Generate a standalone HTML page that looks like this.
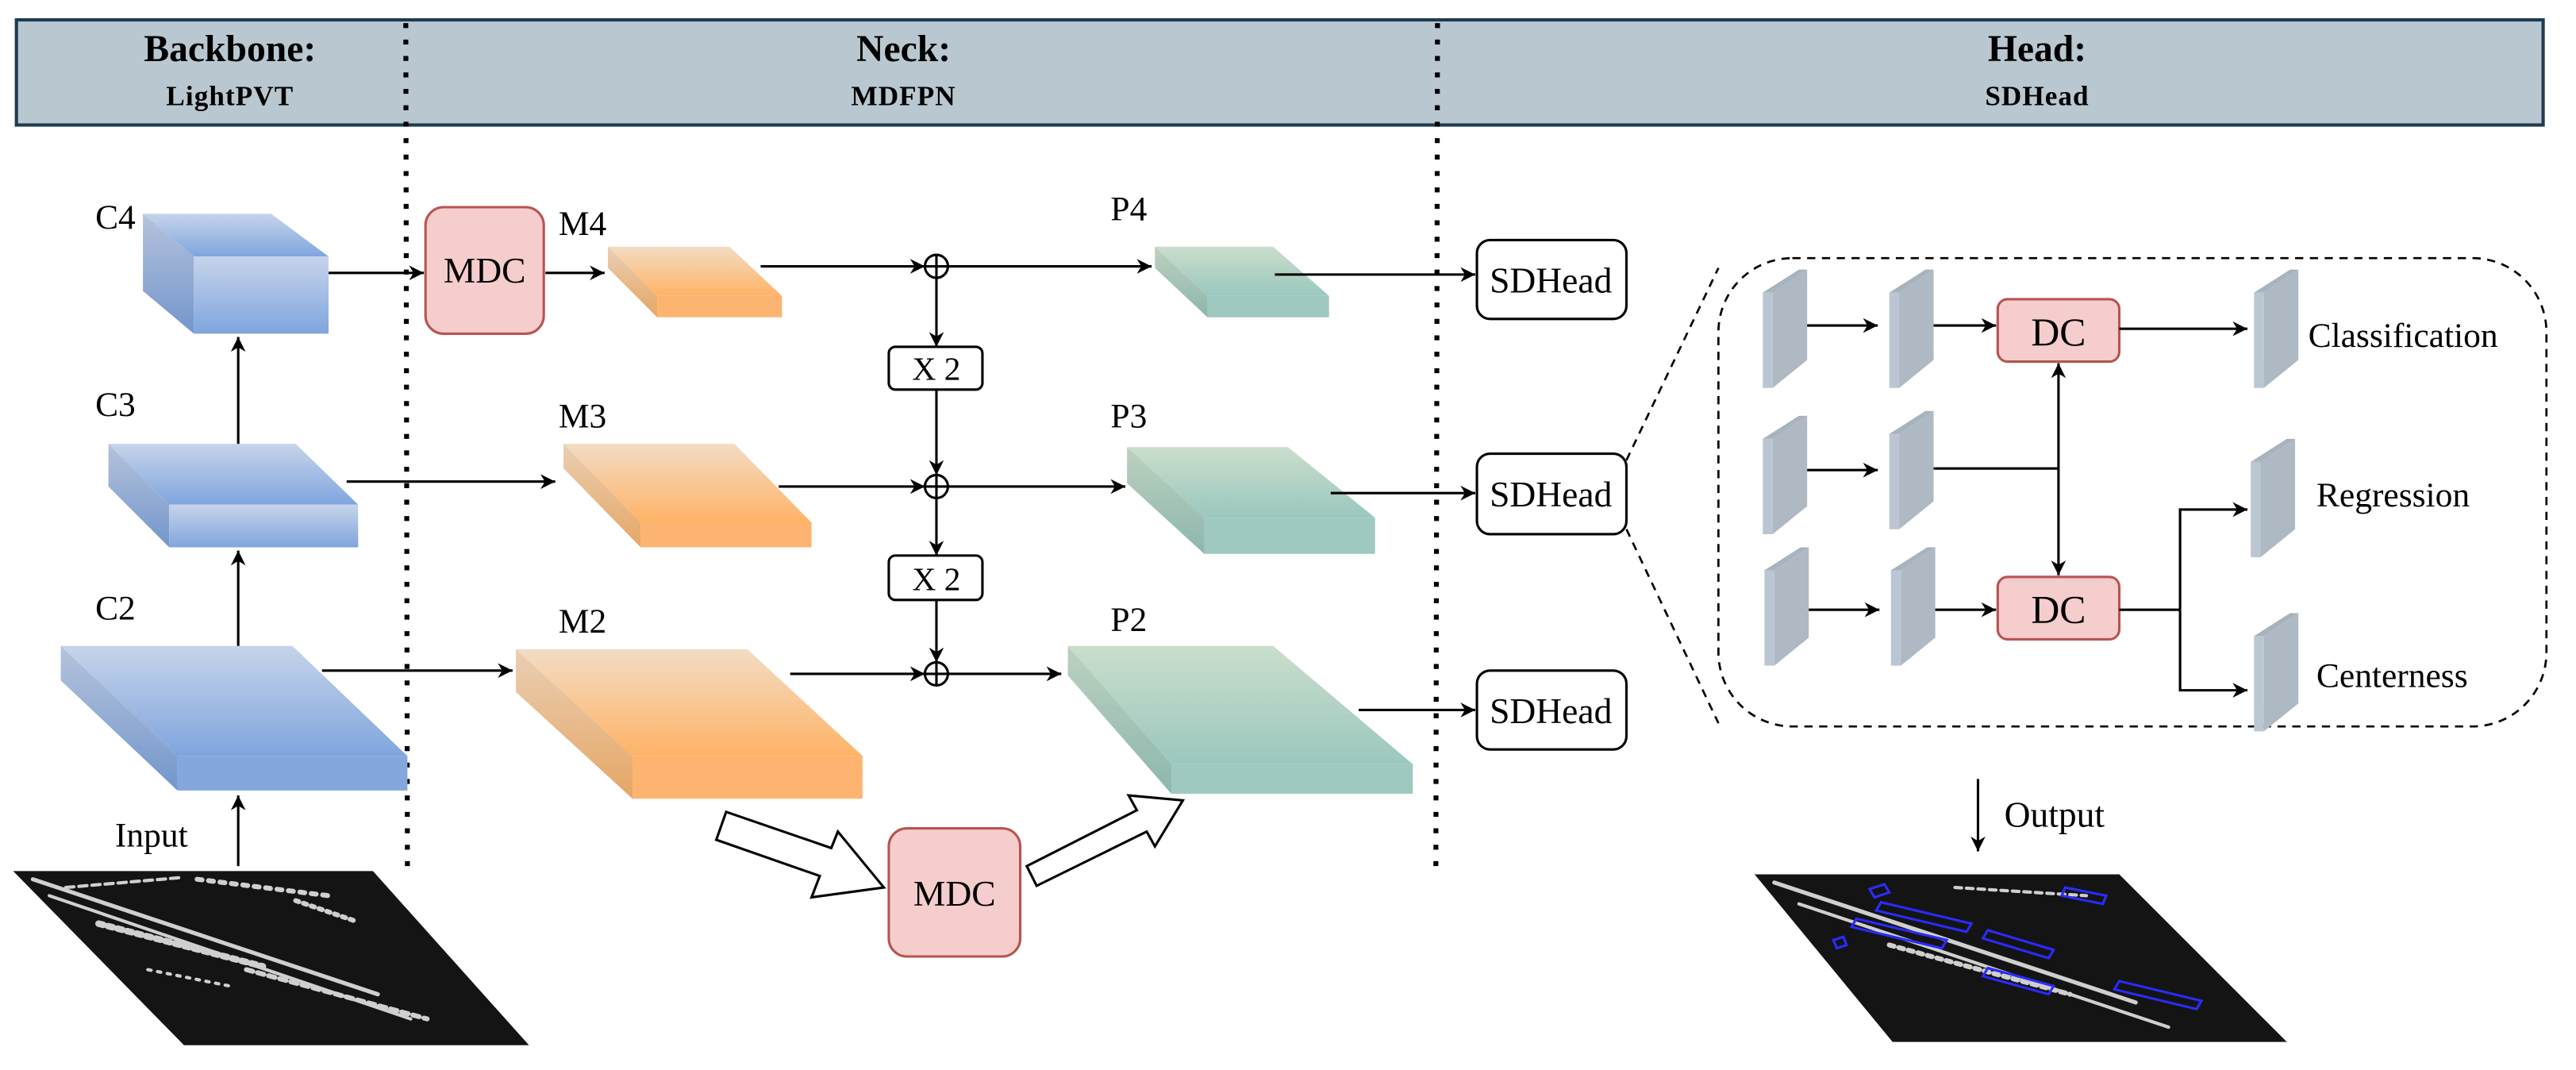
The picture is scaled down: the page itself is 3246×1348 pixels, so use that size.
<!DOCTYPE html>
<html><head><meta charset="utf-8"><style>
html,body{margin:0;padding:0;background:#fff;}
svg{display:block;}
text{font-family:"Liberation Serif",serif;}
</style></head><body>
<svg width="3246" height="1348" viewBox="0 0 1568 651" xmlns="http://www.w3.org/2000/svg" font-family="Liberation Serif, serif">
<defs>
<linearGradient id="bl" x1="0" y1="0" x2="0" y2="1"><stop offset="0" stop-color="#c7d4ea"/><stop offset="1" stop-color="#7fa5de"/></linearGradient>
<linearGradient id="bls" x1="0" y1="0" x2="0" y2="1"><stop offset="0" stop-color="#b5c3dc"/><stop offset="1" stop-color="#7396cb"/></linearGradient>
<linearGradient id="or" x1="0" y1="0" x2="0" y2="1"><stop offset="0" stop-color="#f2dcc4"/><stop offset="1" stop-color="#ffb366"/></linearGradient>
<linearGradient id="ors" x1="0" y1="0" x2="0" y2="1"><stop offset="0" stop-color="#e9cfb3"/><stop offset="1" stop-color="#e6a665"/></linearGradient>
<linearGradient id="gr" x1="0" y1="0" x2="0" y2="1"><stop offset="0" stop-color="#cadecb"/><stop offset="1" stop-color="#9bc7bf"/></linearGradient>
<linearGradient id="grs" x1="0" y1="0" x2="0" y2="1"><stop offset="0" stop-color="#bcd1bf"/><stop offset="1" stop-color="#8db7ae"/></linearGradient>
<marker id="a" viewBox="0 0 10 10" refX="10" refY="5" markerWidth="9" markerHeight="9" markerUnits="userSpaceOnUse" orient="auto"><path d="M0,0 L10,5 L0,10 L3,5 Z" fill="#000"/></marker>
</defs>

<rect x="10" y="12" width="1538" height="64" fill="#b9c7d1" stroke="#1f3b50" stroke-width="2"/>
<g font-weight="bold" text-anchor="middle">
<text x="140" y="37" font-size="23">Backbone:</text>
<text x="140" y="64" font-size="17" letter-spacing="0.5">LightPVT</text>
<text x="550" y="37" font-size="23">Neck:</text>
<text x="550" y="64" font-size="17" letter-spacing="0.5">MDFPN</text>
<text x="1240" y="37" font-size="23">Head:</text>
<text x="1240" y="64" font-size="17" letter-spacing="0.5">SDHead</text>
</g>
<line x1="247" y1="14" x2="248" y2="527" stroke="#000" stroke-width="3" stroke-dasharray="3,7"/>
<line x1="875" y1="14" x2="874" y2="527" stroke="#000" stroke-width="3" stroke-dasharray="3,7"/>

<g font-size="21">
<text x="58" y="139">C4</text><text x="58" y="253">C3</text><text x="58" y="377">C2</text>
<text x="70" y="515">Input</text>
<text x="340" y="143">M4</text><text x="340" y="260">M3</text><text x="340" y="385">M2</text>
<text x="676" y="134">P4</text><text x="676" y="260">P3</text><text x="676" y="384">P2</text>
</g>

<polygon points="87,130 165,130 200,156 118,156" fill="url(#bl)"/>
<polygon points="87,130 118,156 118,203 87,177" fill="url(#bls)"/>
<rect x="118" y="156" width="82" height="47" fill="url(#bl)"/>
<polygon points="66,270 180,270 218,307 103,307" fill="url(#bl)"/>
<polygon points="66,270 103,307 103,333 66,296" fill="url(#bls)"/>
<rect x="103" y="307" width="115" height="26" fill="url(#bl)"/>
<polygon points="37,393 178,393 248,460 108,460" fill="url(#bl)"/>
<polygon points="37,393 108,460 108,481 37,414" fill="url(#bls)"/>
<rect x="108" y="460" width="140" height="21" fill="#84a8de"/>

<polygon points="370,150 444,150 476,180 400,180" fill="url(#or)"/>
<polygon points="370,150 400,180 400,193 370,163" fill="url(#ors)"/>
<rect x="400" y="180" width="76" height="13" fill="#fdb470"/>
<polygon points="343,270 447,270 494,318 390,318" fill="url(#or)"/>
<polygon points="343,270 390,318 390,333 343,285" fill="url(#ors)"/>
<rect x="390" y="318" width="104" height="15" fill="#fdb470"/>
<polygon points="314,395 455,395 525,460 385,460" fill="url(#or)"/>
<polygon points="314,395 385,460 385,486 314,421" fill="url(#ors)"/>
<rect x="385" y="460" width="140" height="26" fill="#fdb470"/>

<polygon points="703,150 775,150 809,180 735,180" fill="url(#gr)"/>
<polygon points="703,150 735,180 735,193 703,163" fill="url(#grs)"/>
<rect x="735" y="180" width="74" height="13" fill="#9fc9c0"/>
<polygon points="686,272 784,272 837,315 733,315" fill="url(#gr)"/>
<polygon points="686,272 733,315 733,337 686,294" fill="url(#grs)"/>
<rect x="733" y="315" width="104" height="22" fill="#9fc9c0"/>
<polygon points="650,393 775,393 860,465 713,465" fill="url(#gr)"/>
<polygon points="650,393 713,465 713,483 650,411" fill="url(#grs)"/>
<rect x="713" y="465" width="147" height="18" fill="#9fc9c0"/>

<rect x="259" y="126" width="72" height="77" rx="11" fill="#f5cdcc" stroke="#b85450" stroke-width="1.5"/>
<text x="295" y="172" font-size="22" text-anchor="middle">MDC</text>
<rect x="541" y="504" width="80" height="78" rx="11" fill="#f5cdcc" stroke="#b85450" stroke-width="1.5"/>
<text x="581" y="551" font-size="22" text-anchor="middle">MDC</text>

<g stroke="#000" stroke-width="1.5" fill="none" marker-end="url(#a)">
<line x1="145" y1="527" x2="145" y2="484"/>
<line x1="145" y1="393" x2="145" y2="335"/>
<line x1="145" y1="270" x2="145" y2="205"/>
<line x1="200" y1="166" x2="258" y2="166"/>
<line x1="332" y1="166" x2="368" y2="166"/>
<line x1="211" y1="293" x2="338" y2="293"/>
<line x1="196" y1="408" x2="312" y2="408"/>
<line x1="463" y1="162" x2="563" y2="162"/>
<line x1="474" y1="296" x2="563" y2="296"/>
<line x1="481" y1="410" x2="563" y2="410"/>
<line x1="570" y1="169" x2="570" y2="211"/>
<line x1="570" y1="237" x2="570" y2="289"/>
<line x1="570" y1="303" x2="570" y2="338"/>
<line x1="570" y1="365" x2="570" y2="403"/>
<line x1="577" y1="162" x2="701" y2="162"/>
<line x1="577" y1="296" x2="685" y2="296"/>
<line x1="577" y1="410" x2="646" y2="410"/>
<line x1="776" y1="167" x2="898" y2="167"/>
<line x1="810" y1="300" x2="898" y2="300"/>
<line x1="827" y1="432" x2="898" y2="432"/>
<line x1="1204" y1="474" x2="1204" y2="518"/>
</g>
<g stroke="#000" stroke-width="1.5" fill="#fff">
<circle cx="570" cy="162" r="7"/><line x1="563" y1="162" x2="577" y2="162"/><line x1="570" y1="155" x2="570" y2="169"/>
<circle cx="570" cy="296" r="7"/><line x1="563" y1="296" x2="577" y2="296"/><line x1="570" y1="289" x2="570" y2="303"/>
<circle cx="570" cy="410" r="7"/><line x1="563" y1="410" x2="577" y2="410"/><line x1="570" y1="403" x2="570" y2="417"/>
<rect x="541" y="211" width="57" height="26" rx="4"/>
<rect x="541" y="338" width="57" height="27" rx="4"/>
</g>
<text x="570" y="231" font-size="20" text-anchor="middle">X 2</text>
<text x="570" y="359" font-size="20" text-anchor="middle">X 2</text>

<polygon points="442,494 506,516 510,506 538,540 494,546 499,533 436,511" fill="#fff" stroke="#000" stroke-width="1.5"/>
<polygon points="625,527 692,493 687,484 720,487 703,515 698,506 631,539" fill="#fff" stroke="#000" stroke-width="1.5"/>

<g stroke="#000" stroke-width="1.5" fill="#fff">
<rect x="899" y="146" width="91" height="48" rx="8"/>
<rect x="899" y="276" width="91" height="49" rx="8"/>
<rect x="899" y="408" width="91" height="48" rx="8"/>
</g>
<g font-size="22" text-anchor="middle">
<text x="944" y="178">SDHead</text><text x="944" y="308">SDHead</text><text x="944" y="440">SDHead</text>
</g>

<g stroke="#000" stroke-width="1.3" fill="none" stroke-dasharray="5,4">
<line x1="990" y1="280" x2="1046" y2="163"/>
<line x1="990" y1="322" x2="1046" y2="440"/>
<rect x="1046" y="157" width="504" height="285" rx="45"/>
</g>

<g>
<g transform="translate(1073,164)"><polygon points="0,14 6,14 6,72 0,72" fill="#bac7d3"/><polygon points="0,14 22,0 27,0 6,14" fill="#a7b3bd"/><polygon points="6,14 27,0 27,55 6,72" fill="#aeb9c3"/></g>
<g transform="translate(1150,164)"><polygon points="0,14 6,14 6,72 0,72" fill="#bac7d3"/><polygon points="0,14 22,0 27,0 6,14" fill="#a7b3bd"/><polygon points="6,14 27,0 27,55 6,72" fill="#aeb9c3"/></g>
<g transform="translate(1073,253)"><polygon points="0,14 6,14 6,72 0,72" fill="#bac7d3"/><polygon points="0,14 22,0 27,0 6,14" fill="#a7b3bd"/><polygon points="6,14 27,0 27,55 6,72" fill="#aeb9c3"/></g>
<g transform="translate(1150,250)"><polygon points="0,14 6,14 6,72 0,72" fill="#bac7d3"/><polygon points="0,14 22,0 27,0 6,14" fill="#a7b3bd"/><polygon points="6,14 27,0 27,55 6,72" fill="#aeb9c3"/></g>
<g transform="translate(1074,333)"><polygon points="0,14 6,14 6,72 0,72" fill="#bac7d3"/><polygon points="0,14 22,0 27,0 6,14" fill="#a7b3bd"/><polygon points="6,14 27,0 27,55 6,72" fill="#aeb9c3"/></g>
<g transform="translate(1151,333)"><polygon points="0,14 6,14 6,72 0,72" fill="#bac7d3"/><polygon points="0,14 22,0 27,0 6,14" fill="#a7b3bd"/><polygon points="6,14 27,0 27,55 6,72" fill="#aeb9c3"/></g>
<g transform="translate(1372,164)"><polygon points="0,14 6,14 6,72 0,72" fill="#bac7d3"/><polygon points="0,14 22,0 27,0 6,14" fill="#a7b3bd"/><polygon points="6,14 27,0 27,55 6,72" fill="#aeb9c3"/></g>
<g transform="translate(1370,267)"><polygon points="0,14 6,14 6,72 0,72" fill="#bac7d3"/><polygon points="0,14 22,0 27,0 6,14" fill="#a7b3bd"/><polygon points="6,14 27,0 27,55 6,72" fill="#aeb9c3"/></g>
<g transform="translate(1372,373)"><polygon points="0,14 6,14 6,72 0,72" fill="#bac7d3"/><polygon points="0,14 22,0 27,0 6,14" fill="#a7b3bd"/><polygon points="6,14 27,0 27,55 6,72" fill="#aeb9c3"/></g>
</g>

<g stroke="#b85450" stroke-width="1.5" fill="#f5cdcc">
<rect x="1216" y="182" width="74" height="38" rx="6"/>
<rect x="1216" y="351" width="74" height="38" rx="6"/>
</g>
<g font-size="24" text-anchor="middle"><text x="1253" y="210">DC</text><text x="1253" y="379">DC</text></g>

<g stroke="#000" stroke-width="1.5" fill="none" marker-end="url(#a)">
<line x1="1100" y1="198" x2="1143" y2="198"/>
<line x1="1177" y1="198" x2="1215" y2="198"/>
<line x1="1290" y1="200" x2="1368" y2="200"/>
<line x1="1100" y1="286" x2="1143" y2="286"/>
<line x1="1253" y1="285" x2="1253" y2="221"/>
<line x1="1253" y1="285" x2="1253" y2="350"/>
<line x1="1101" y1="371" x2="1144" y2="371"/>
<line x1="1178" y1="371" x2="1215" y2="371"/>
<polyline points="1327,371 1327,310 1368,310"/>
<polyline points="1327,371 1327,420 1368,420"/>
</g>
<g stroke="#000" stroke-width="1.5"><line x1="1177" y1="285" x2="1253" y2="285"/><line x1="1290" y1="371" x2="1327" y2="371"/></g>
<g font-size="21"><text x="1405" y="211">Classification</text><text x="1410" y="308">Regression</text><text x="1410" y="418">Centerness</text></g>
<text x="1220" y="503" font-size="22">Output</text>

<polygon points="8,530 227,530 322,636 112,636" fill="#141414"/>
<g stroke="#cfcfcf" stroke-linecap="round" fill="none">
<line x1="20" y1="535" x2="230" y2="605" stroke-width="2.5"/>
<line x1="30" y1="545" x2="250" y2="620" stroke-width="2"/>
<line x1="60" y1="562" x2="160" y2="588" stroke-width="4" stroke-dasharray="3,3"/>
<line x1="150" y1="590" x2="260" y2="620" stroke-width="3" stroke-dasharray="4,3"/>
<line x1="120" y1="535" x2="200" y2="545" stroke-width="3" stroke-dasharray="3,4"/>
<line x1="40" y1="540" x2="110" y2="534" stroke-width="2" stroke-dasharray="5,3"/>
<line x1="180" y1="548" x2="215" y2="560" stroke-width="3" stroke-dasharray="2,3"/>
<line x1="90" y1="590" x2="140" y2="600" stroke-width="2" stroke-dasharray="2,4"/>
</g>
<polygon points="1068,532 1290,532 1392,634 1152,634" fill="#141414"/>
<g stroke="#cfcfcf" stroke-linecap="round" fill="none">
<line x1="1080" y1="537" x2="1300" y2="610" stroke-width="2.5"/>
<line x1="1095" y1="550" x2="1320" y2="625" stroke-width="2"/>
<line x1="1150" y1="575" x2="1260" y2="605" stroke-width="3" stroke-dasharray="3,3"/>
<line x1="1190" y1="540" x2="1270" y2="545" stroke-width="2" stroke-dasharray="4,3"/>
</g>
<g stroke="#2b2bff" stroke-width="1.5" fill="none">
<polygon points="1138,541 1147,538 1150,543 1141,546"/>
<polygon points="1145,549 1200,562 1197,567 1142,554"/>
<polygon points="1130,559 1185,572 1182,577 1127,564"/>
<polygon points="1210,566 1250,578 1247,583 1207,571"/>
<polygon points="1210,589 1250,600 1247,605 1207,594"/>
<polygon points="1290,597 1340,609 1337,614 1287,602"/>
<polygon points="1257,540 1282,545 1280,550 1255,545"/>
<polygon points="1116,572 1122,570 1124,575 1118,577"/>
</g>
</svg>
</body></html>
